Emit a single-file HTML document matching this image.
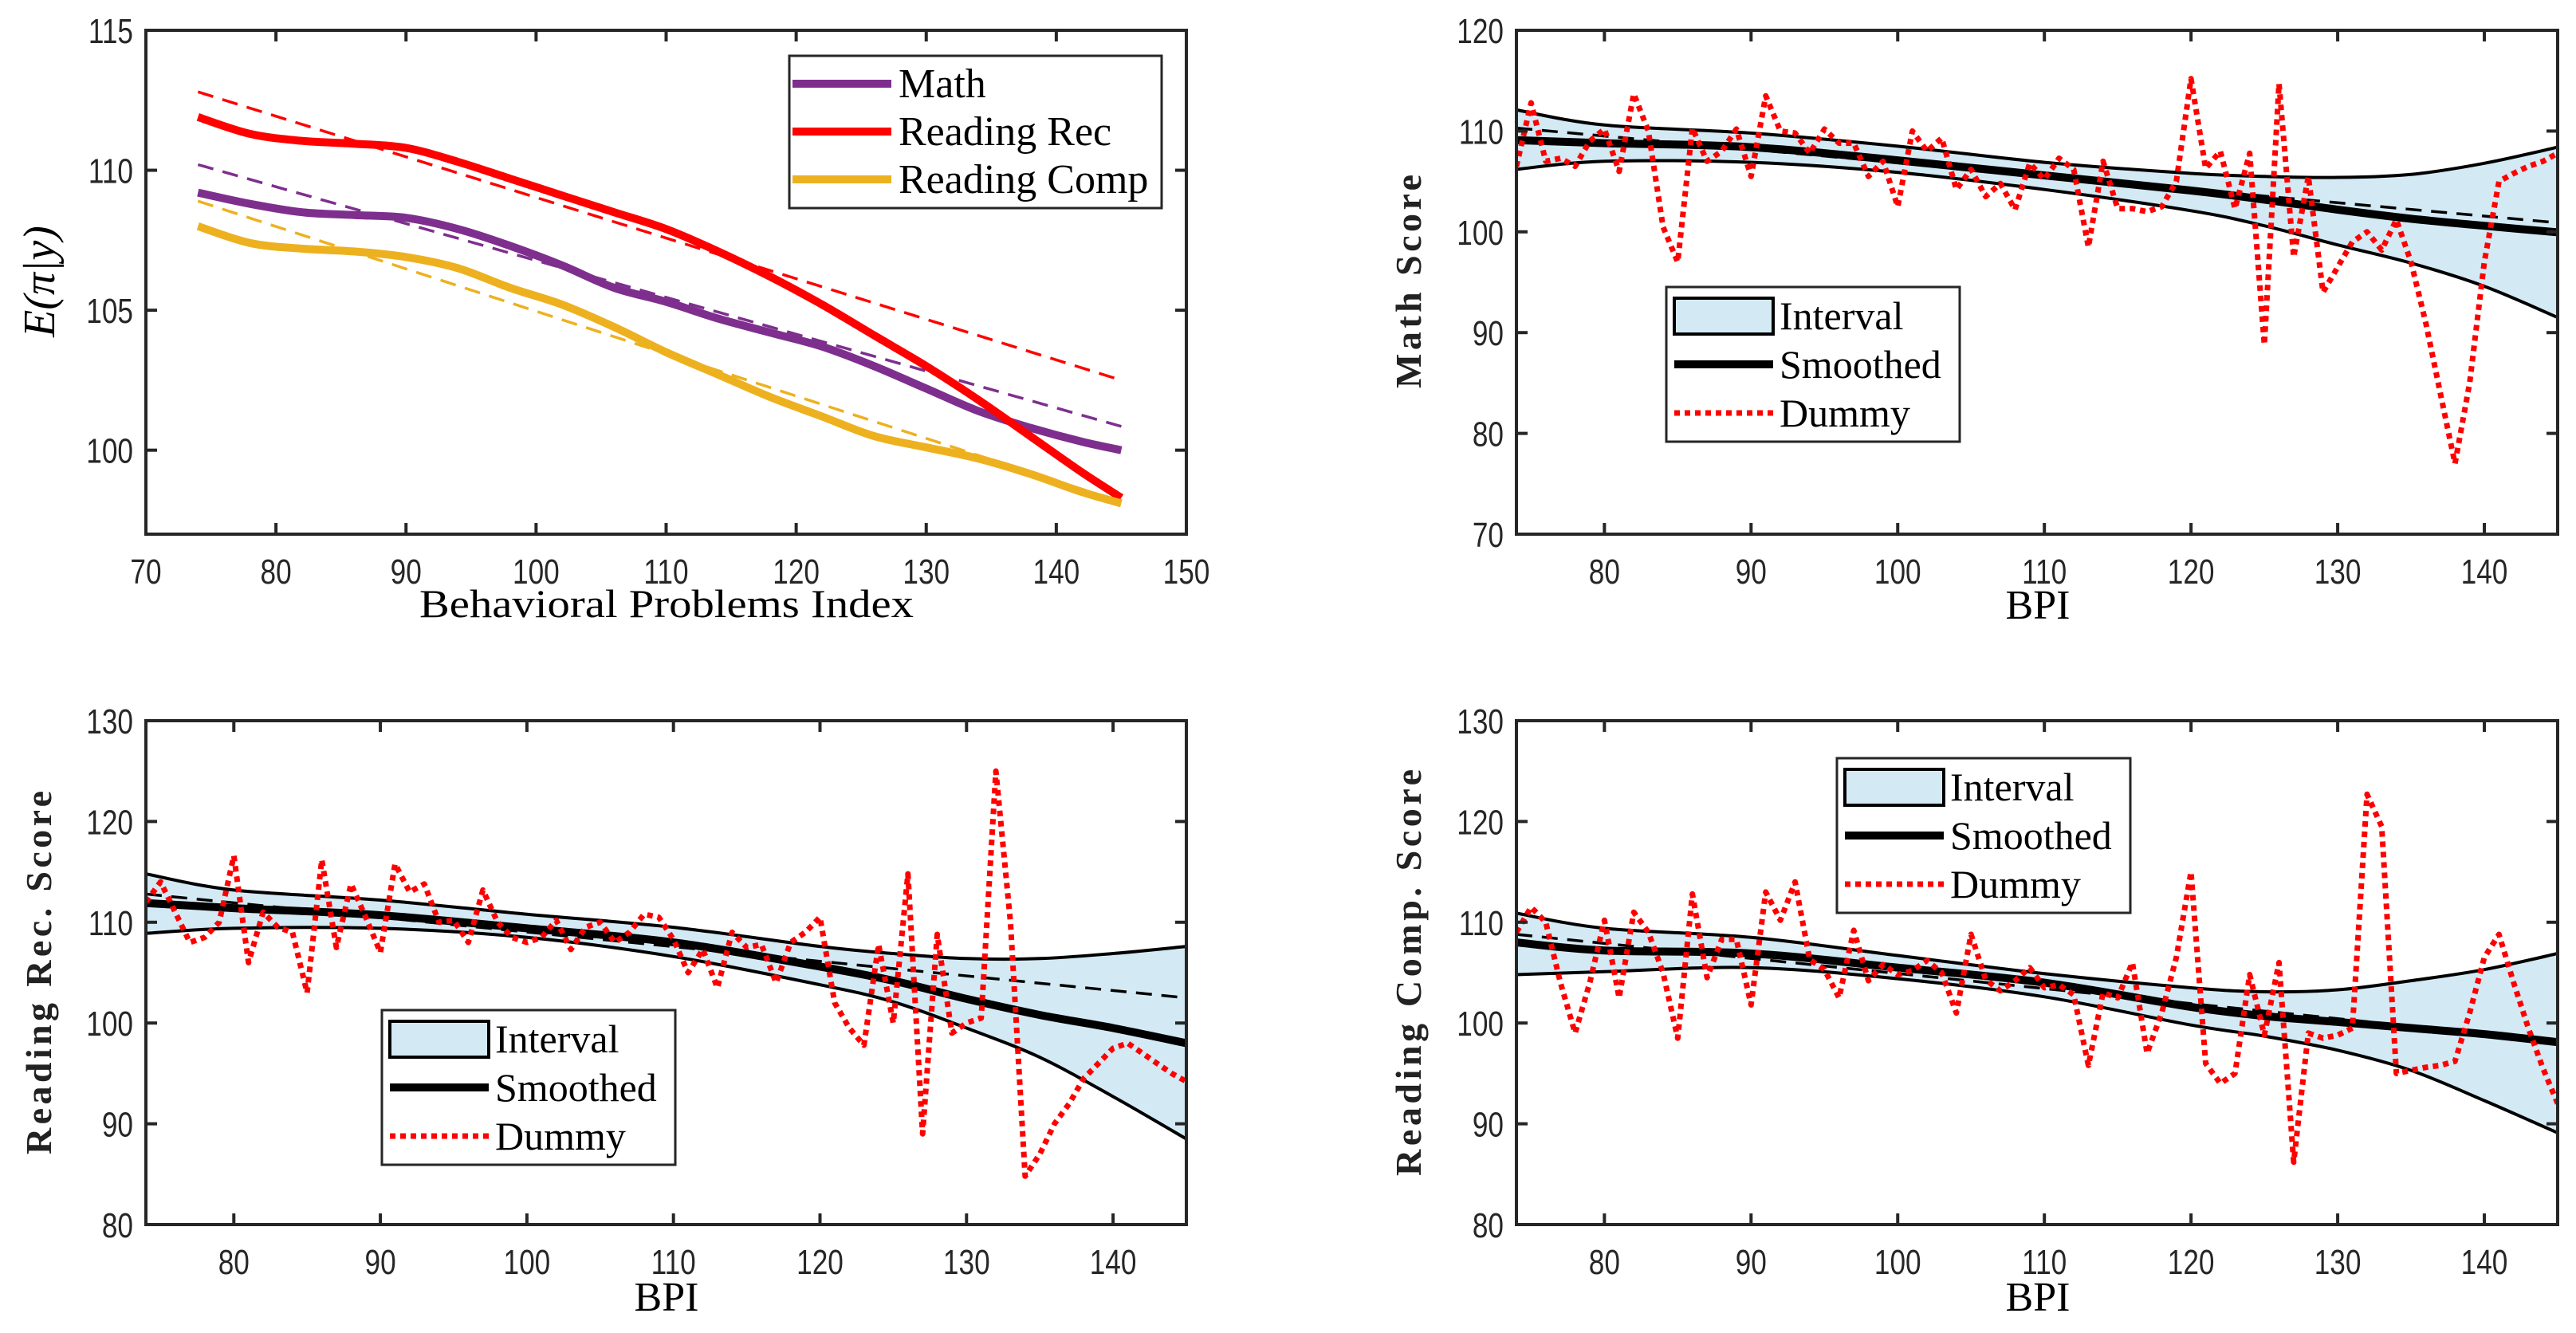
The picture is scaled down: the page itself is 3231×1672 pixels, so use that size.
<!DOCTYPE html>
<html><head><meta charset="utf-8"><style>
html,body{margin:0;padding:0;background:#fff}
svg{display:block}
</style></head><body>
<svg id="fig" xmlns="http://www.w3.org/2000/svg" width="3231" height="1672" viewBox="0 0 3231 1672"></svg>
<script>
// ---------- Panel 1 data ----------
const p1X = [74,78,82,86,90,94,98,102,106,110,114,118,122,126,130,134,138,142,145];
const p1Math = [109.2,108.8,108.5,108.4,108.3,107.9,107.3,106.6,105.8,105.3,104.7,104.2,103.7,103.0,102.2,101.4,100.8,100.3,100.0];
const p1Rec = [111.9,111.3,111.05,110.95,110.8,110.3,109.7,109.1,108.5,107.9,107.1,106.2,105.2,104.1,103.0,101.8,100.5,99.2,98.3];
const p1Comp = [108.0,107.4,107.2,107.1,106.9,106.5,105.8,105.2,104.4,103.5,102.7,101.9,101.2,100.5,100.1,99.7,99.15,98.5,98.1];
const p1FitX = [74,145];
const p1MathFit = [110.2,100.85];
const p1RecFit = [112.8,102.5];
const p1CompFit = [108.9,98.15];
const p1XTicks = [70,80,90,100,110,120,130,140,150];
const p1YTicks = [100,105,110,115];

// ---------- band panels: shared x ----------
const bandX = [74,80,90,100,110,120,125,130,135,140,145];
const dummyX = [74,75,76,77,78,79,80,81,82,83,84,85,86,87,88,89,90,91,92,93,94,95,96,97,98,99,100,101,102,103,104,105,106,107,108,109,110,111,112,113,114,115,116,117,118,119,120,121,122,123,124,125,126,127,128,129,130,131,132,133,134,135,136,137,138,139,140,141,142,143,144,145];
const fitX = [74,145];
const bandXTicks = [80,90,100,110,120,130,140];

// Math
const mathUpper = [112.1,110.6,109.8,108.5,106.9,105.8,105.5,105.4,105.7,106.8,108.4];
const mathLower = [106.2,107.0,106.9,105.9,104.2,102.1,100.6,98.7,96.9,94.6,91.5];
const mathSmooth = [109.1,108.8,108.4,107.1,105.6,104.1,103.2,102.2,101.3,100.6,99.95];
const mathFit = [110.3,100.9];
const mathDummy = [106.5,112.8,107,107.3,106.5,109,110.2,106,113.7,110,100.5,97,110.3,107,108,110.2,105.5,113.5,110,109.8,107.8,110.2,108.8,108.8,105.5,107,102.5,110,108,109.3,104.2,106.2,103.5,104.8,102.2,106.8,105.2,107.3,106.2,98.5,107,102.3,102.3,102,102.5,105,115.2,106.3,108,102.3,107.8,88.8,114.7,97.5,105.5,94,96.5,99,100,98.2,101.2,97,91,84,77,85,97,105,105.8,106.5,107,107.8];
const mathYTicks = [70,80,90,100,110,120];

// Reading Rec
const recUpper = [114.8,113.2,112.2,110.8,109.5,107.6,106.9,106.4,106.4,106.9,107.6];
const recLower = [108.9,109.4,109.4,108.5,106.6,103.8,102.1,99.5,96.6,92.7,88.5];
const recSmooth = [111.9,111.4,110.7,109.4,108.0,105.6,104.2,102.4,100.8,99.5,98.0];
const recFit = [112.8,102.5];
const recDummy = [112,114,111,108,108.5,110,116.6,106,111,109.5,109,103,116.2,107.5,113.8,110.5,107,115.8,113,113.8,110,110.2,108,113.2,110,108.5,108,108.5,110.2,107.3,109.5,110,108,109,110.8,110.5,108.3,105,107.3,103.5,109,107.5,107.8,104,108,109,110.5,102,99.5,97.8,107.8,100,114.8,89,108.8,99,100,100.5,125,110,84.8,87,90,92,94.5,96,97.5,98,97,96,95,94.2];
const recYTicks = [80,90,100,110,120,130];

// Reading Comp
const compUpper = [110.9,109.4,108.5,106.7,104.9,103.5,103.1,103.3,104.2,105.3,106.9];
const compLower = [104.8,105.1,105.5,104.4,102.6,99.8,98.7,97.3,95.3,92.3,89.1];
const compSmooth = [108.0,107.2,106.9,105.5,104.0,101.6,100.7,100.1,99.5,98.9,98.1];
const compFit = [108.8,98.2];
const compDummy = [109,111.5,110,104,99,104,110.2,102.5,111,109,105,98.5,112.8,104.5,108.3,108.3,101.8,113,110.2,114,106.3,105.3,102.5,109.2,104.2,105.8,104.8,105.2,106.2,105,101,108.8,104.3,103.2,104.2,105.5,103.5,103.8,102.8,95.8,103,102.5,106,97,101,106.5,115,96,94,95,104.8,98.8,106,86.2,99,98.5,98.8,99.5,122.7,119.5,95,95.3,95.6,95.8,96.2,101,106.5,108.8,104,99.5,95.5,92];
const compYTicks = [80,90,100,110,120,130];

const NS = 'http://www.w3.org/2000/svg';
const svg = document.getElementById('fig');
function mk(tag, attrs, parent){
  const e = document.createElementNS(NS, tag);
  for (const k in attrs) e.setAttribute(k, attrs[k]);
  (parent||svg).appendChild(e);
  return e;
}
function scaleFn(d0,d1,r0,r1){ return v => r0 + (v-d0)/(d1-d0)*(r1-r0); }
function pathFrom(xs, ys, sx, sy){
  return xs.map((x,i)=>(i?'L':'M')+sx(x).toFixed(1)+' '+sy(ys[i]).toFixed(1)).join(' ');
}
function smoothPath(xs, ys, sx, sy){
  const P = xs.map((x,i)=>[sx(x), sy(ys[i])]);
  let d = 'M'+P[0][0].toFixed(1)+' '+P[0][1].toFixed(1);
  for (let i=0;i<P.length-1;i++){
    const p0=P[Math.max(0,i-1)], p1=P[i], p2=P[i+1], p3=P[Math.min(P.length-1,i+2)];
    const c1=[p1[0]+(p2[0]-p0[0])/6, p1[1]+(p2[1]-p0[1])/6];
    const c2=[p2[0]-(p3[0]-p1[0])/6, p2[1]-(p3[1]-p1[1])/6];
    d += ' C'+c1[0].toFixed(1)+' '+c1[1].toFixed(1)+' '+c2[0].toFixed(1)+' '+c2[1].toFixed(1)+' '+p2[0].toFixed(1)+' '+p2[1].toFixed(1);
  }
  return d;
}

function axesFrame(g, L, R, T, B, sx, sy, xt, yt, tickFs){
  const frame = mk('rect',{x:L,y:T,width:R-L,height:B-T,fill:'none',stroke:'#262626','stroke-width':4},g);
  
  
  xt.forEach(v=>{
    const x = sx(v);
    const t1 = mk('line',{x1:x,y1:B,x2:x,y2:B-14,stroke:'#262626','stroke-width':4},g);
    
    
    mk('line',{x1:x,y1:T,x2:x,y2:T+14,stroke:'#262626','stroke-width':4},g);
    const lab = mk('text',{x:x,y:B+62,'text-anchor':'middle','font-size':tickFs,fill:'#262626','font-family':'Liberation Sans, sans-serif',transform:`translate(${x},0) scale(0.8,1) translate(${-x},0)`},g);
    lab.textContent = v;
    
    
  });
  yt.forEach(v=>{
    const y = sy(v);
    const t1 = mk('line',{x1:L,y1:y,x2:L+14,y2:y,stroke:'#262626','stroke-width':4},g);
    
    
    mk('line',{x1:R,y1:y,x2:R-14,y2:y,stroke:'#262626','stroke-width':4},g);
    const xe = L-16;
    const lab = mk('text',{x:xe,y:y+16,'text-anchor':'end','font-size':tickFs,fill:'#262626','font-family':'Liberation Sans, sans-serif',transform:`translate(${xe},0) scale(0.8,1) translate(${-xe},0)`},g);
    lab.textContent = v;
    
    
  });
}

// ================= Panel 1 =================
(function(){
  const L=183,R=1488,T=38,B=670;
  const sx = scaleFn(70,150,L,R), sy = scaleFn(97,115,B,T);
  const g = mk('g',{});
  
  
  const cp = mk('clipPath',{id:'c1'},g); mk('rect',{x:L,y:T,width:R-L,height:B-T},cp);
  const gl = mk('g',{'clip-path':'url(#c1)'},g);
  const series = [
    ['math',p1Math,p1MathFit,'#7E2F8E'],
    ['reading-rec',p1Rec,p1RecFit,'#FF0000'],
    ['reading-comp',p1Comp,p1CompFit,'#EDB120']];
  series.forEach(s=>{
    const d = mk('path',{d:pathFrom(p1FitX,s[2],sx,sy),fill:'none',stroke:s[3],'stroke-width':3.5,'stroke-dasharray':'20 12'},gl);
    
    
  });
  series.forEach(s=>{
    const p = mk('path',{d:smoothPath(p1X,s[1],sx,sy),fill:'none',stroke:s[3],'stroke-width':10,'stroke-linejoin':'round'},gl);
    
    
  });
  axesFrame(g,L,R,T,B,sx,sy,p1XTicks,p1YTicks,44);
  const xl = mk('text',{x:836,y:774,'text-anchor':'middle','font-size':50,'font-family':'Liberation Serif, serif',textLength:620,lengthAdjust:'spacingAndGlyphs'},g);
  xl.textContent='Behavioral Problems Index';
  
  
  const yl = mk('text',{x:0,y:0,'text-anchor':'middle','font-size':56,'font-family':'Liberation Serif, serif','font-style':'italic',transform:'translate(68,353) rotate(-90)'},g);
  yl.textContent='E(π|y)';
  
  
  const lg = mk('g',{},g);
  
  
  mk('rect',{x:990,y:70,width:467,height:191,fill:'#fff',stroke:'#262626','stroke-width':3},lg);
  [['Math','#7E2F8E',105],['Reading Rec','#FF0000',165],['Reading Comp','#EDB120',225]].forEach(e=>{
    const ln = mk('line',{x1:994,y1:e[2],x2:1118,y2:e[2],stroke:e[1],'stroke-width':10},lg);
    
    
    const t = mk('text',{x:1127,y:e[2]+17,'font-size':52,'font-family':'Liberation Serif, serif'},lg);
    t.textContent=e[0];
    
    
  });
})();

// ================= Band panels =================
function bandPanel(cfg){
  const {L,R,T,B,ymin,ymax,up,lo,sm,fit,dm,yt,ylabel,ylx,yly,ylLen,xlx,xly,lgX,lgY,clip,name} = cfg;
  const sx = scaleFn(74,145,L,R), sy = scaleFn(ymin,ymax,B,T);
  const g = mk('g',{});
  
  
  const cp = mk('clipPath',{id:clip},g); mk('rect',{x:L,y:T,width:R-L,height:B-T},cp);
  const gl = mk('g',{'clip-path':'url(#'+clip+')'},g);
  const upP = smoothPath(bandX,up,sx,sy);
  const loRevX = bandX.slice().reverse(), loRevY = lo.slice().reverse();
  const loP = smoothPath(loRevX,loRevY,sx,sy).replace(/^M/,'L');
  const band = mk('path',{d:upP+' '+loP+' Z',fill:'#D3EAF5',stroke:'none'},gl);
  
  
  const ue = mk('path',{d:upP,fill:'none',stroke:'#000','stroke-width':4},gl);
  
  
  const le = mk('path',{d:smoothPath(bandX,lo,sx,sy),fill:'none',stroke:'#000','stroke-width':4},gl);
  
  
  const ft = mk('path',{d:pathFrom(fitX,fit,sx,sy),fill:'none',stroke:'#000','stroke-width':3.5,'stroke-dasharray':'20 12'},gl);
  
  
  const s = mk('path',{d:smoothPath(bandX,sm,sx,sy),fill:'none',stroke:'#000','stroke-width':10},gl);
  
  
  const dd = mk('path',{d:pathFrom(dummyX,dm,sx,sy),fill:'none',stroke:'#FF0000','stroke-width':7,'stroke-dasharray':'7 6','stroke-linejoin':'round'},gl);
  
  
  axesFrame(g,L,R,T,B,sx,sy,bandXTicks,yt,44);
  const xl = mk('text',{x:xlx,y:xly,'text-anchor':'middle','font-size':52,'font-family':'Liberation Serif, serif'},g);
  xl.textContent='BPI';
  
  
  const yl = mk('text',{x:0,y:0,'text-anchor':'middle','font-size':46,'font-family':'Liberation Serif, serif','font-weight':'bold',fill:'#222',textLength:ylLen,lengthAdjust:'spacing',transform:`translate(${ylx},${yly}) rotate(-90)`},g);
  yl.textContent=ylabel;
  
  
  const lg = mk('g',{},g);
  
  
  mk('rect',{x:lgX,y:lgY,width:368,height:194,fill:'#fff',stroke:'#262626','stroke-width':3},lg);
  const pr = mk('rect',{x:lgX+10,y:lgY+14,width:124,height:45,fill:'#D3EAF5',stroke:'#000','stroke-width':4},lg);
  
  
  const l2 = mk('line',{x1:lgX+10,y1:lgY+97,x2:lgX+134,y2:lgY+97,stroke:'#000','stroke-width':10},lg);
  
  
  const l3 = mk('line',{x1:lgX+10,y1:lgY+158,x2:lgX+134,y2:lgY+158,stroke:'#FF0000','stroke-width':7,'stroke-dasharray':'7 6'},lg);
  
  
  [['Interval',53],['Smoothed',114],['Dummy',175]].forEach(e=>{
    const t = mk('text',{x:lgX+142,y:lgY+e[1],'font-size':50,'font-family':'Liberation Serif, serif'},lg);
    t.textContent=e[0];
    
    
  });
}

bandPanel({name:'panel-math',L:1902,R:3208,T:38,B:670,ymin:70,ymax:120,up:mathUpper,lo:mathLower,sm:mathSmooth,fit:mathFit,dm:mathDummy,yt:mathYTicks,ylabel:'Math Score',ylx:1782,yly:353,ylLen:268,xlx:2556,xly:776,lgX:2090,lgY:360,clip:'c2'});
bandPanel({name:'panel-reading-rec',L:183,R:1488,T:904,B:1536,ymin:80,ymax:130,up:recUpper,lo:recLower,sm:recSmooth,fit:recFit,dm:recDummy,yt:recYTicks,ylabel:'Reading Rec. Score',ylx:64,yly:1220,ylLen:456,xlx:836,xly:1644,lgX:479,lgY:1267,clip:'c3'});
bandPanel({name:'panel-reading-comp',L:1902,R:3208,T:904,B:1536,ymin:80,ymax:130,up:compUpper,lo:compLower,sm:compSmooth,fit:compFit,dm:compDummy,yt:compYTicks,ylabel:'Reading Comp. Score',ylx:1782,yly:1220,ylLen:510,xlx:2556,xly:1644,lgX:2304,lgY:951,clip:'c4'});
</script>
</body></html>
